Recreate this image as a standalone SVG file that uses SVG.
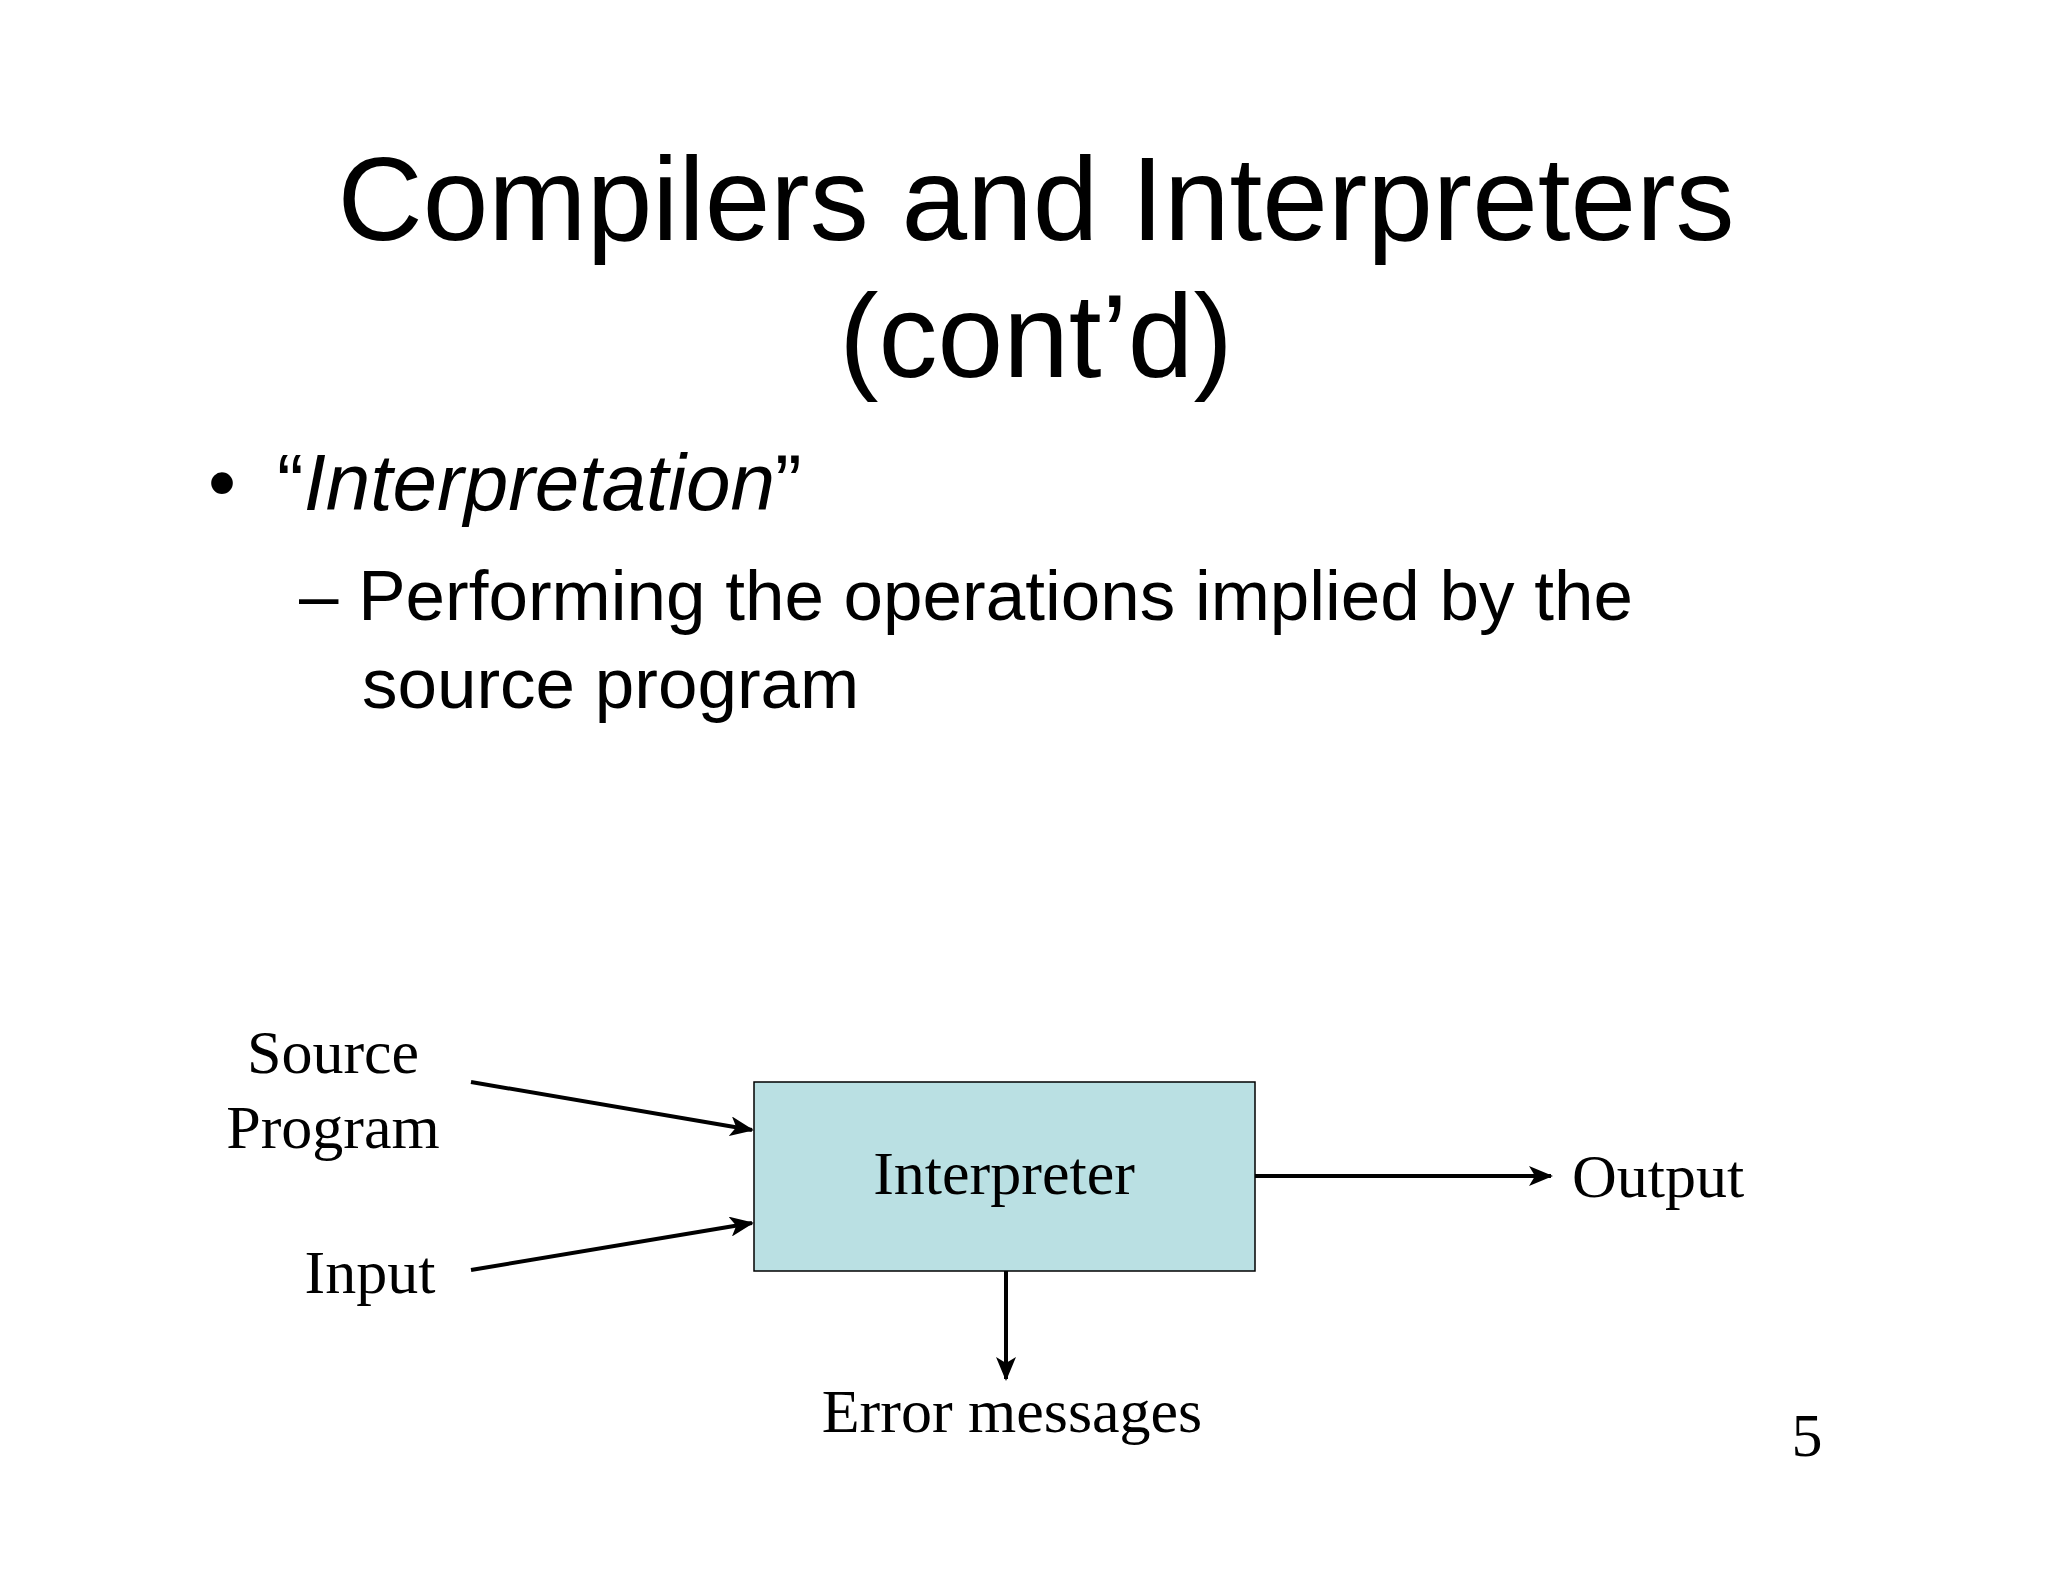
<svg xmlns="http://www.w3.org/2000/svg" width="2048" height="1582" viewBox="0 0 2048 1582">
<style>
.s{font-family:"Liberation Sans",Arial,sans-serif;fill:#000}
.t{font-family:"Liberation Serif","Times New Roman",serif;fill:#000;font-size:62px}
.c{stroke:#000;stroke-width:4;fill:none}
</style>
<defs><marker id="a" markerWidth="8" markerHeight="8" refX="7" refY="4" orient="auto" markerUnits="userSpaceOnUse" viewBox="0 0 8 8"><path d="M0,0 L8,4 L0,8 L2,4 Z" fill="#000"/></marker>
<marker id="h" markerWidth="24" markerHeight="20" refX="22" refY="10" orient="auto" markerUnits="userSpaceOnUse"><path d="M0,0 L24,10 L0,20 L6,10 Z" fill="#000"/></marker></defs>
<rect width="2048" height="1582" fill="#fff"/>
<text class="s" x="1036" y="240" font-size="118" text-anchor="middle">Compilers and Interpreters</text>
<text class="s" x="1036" y="377" font-size="118" text-anchor="middle">(cont’d)</text>
<text class="s" x="208" y="510" font-size="80">•</text>
<text class="s" x="277" y="510" font-size="80">“<tspan font-style="italic">Interpretation</tspan>”</text>
<text class="s" x="299" y="620" font-size="71">– Performing the operations implied by the</text>
<text class="s" x="362" y="708" font-size="71">source program</text>
<g id="interpreter"><rect x="754" y="1082" width="501" height="189" fill="#BAE0E3" stroke="#000" stroke-width="1.5"/><text class="t" x="1004" y="1194" text-anchor="middle">Interpreter</text></g>
<g id="source"><text class="t" x="333" y="1073" text-anchor="middle">Source</text><text class="t" x="333" y="1148" text-anchor="middle">Program</text></g>
<g id="input"><text class="t" x="370" y="1293" text-anchor="middle">Input</text></g>
<g id="output"><text class="t" x="1572" y="1197">Output</text></g>
<g id="errors"><text class="t" x="1012" y="1432" text-anchor="middle">Error messages</text></g>
<g id="connectors">
<line class="c" x1="471" y1="1082" x2="752" y2="1130" marker-end="url(#h)"/>
<line class="c" x1="471" y1="1270" x2="752" y2="1223" marker-end="url(#h)"/>
<line class="c" x1="1255" y1="1176" x2="1551" y2="1176" marker-end="url(#h)"/>
<line class="c" x1="1006" y1="1271" x2="1006" y2="1379" marker-end="url(#h)"/>
</g>
<text class="t" x="1807" y="1456" font-size="32" text-anchor="middle">5</text>
</svg>
